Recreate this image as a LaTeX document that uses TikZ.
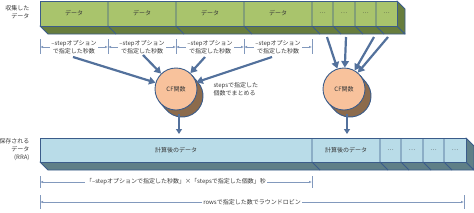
\documentclass[tikz,border=0pt]{standalone}
\usepackage{fontspec}
\setmainfont{Noto Sans CJK JP}
\usetikzlibrary{arrows.meta,positioning,calc}
\definecolor{gface}{HTML}{A9C46C}
\definecolor{gdark}{HTML}{677D3D}
\definecolor{bface}{HTML}{B9DCE8}
\definecolor{bdark}{HTML}{5F7F87}
\definecolor{edgeblue}{HTML}{3B5C8A}
\definecolor{arrowblue}{HTML}{53719C}
\definecolor{dimblue}{HTML}{8299BD}
\definecolor{cfface}{HTML}{F8C29C}
\definecolor{cfside}{HTML}{8C6B4C}
\definecolor{txt}{HTML}{3A3A3A}
\tikzset{
  edge/.style={draw=edgeblue,line width=0.9pt,line join=round},
  celltext/.style={text=txt},
  sidetext/.style={text=txt,anchor=east,align=right},
  dimlabel/.style={text=txt,fill=white,inner sep=1.5pt,align=center},
  dim/.style={draw=dimblue,line width=0.6pt},
  dimarrow/.style={dim,{Latex[length=3pt,width=2.4pt]}-{Latex[length=3pt,width=2.4pt]}},
  bigarrow/.style={draw=arrowblue,line width=2.2pt,-{Triangle[length=6.5pt,width=7.5pt]}},
  downarrow/.style={draw=arrowblue,line width=1.6pt,-{Triangle[length=5pt,width=6pt]}},
  cfdisk/.style={circle,edge,fill=cfface,minimum size=42pt,inner sep=0pt,text=txt}
}
\begin{document}
\begin{tikzpicture}[x=1pt,y=-1pt,font=\fontsize{6}{8}\selectfont]
\useasboundingbox (0,0) rectangle (474,212);
\clip (0,0) rectangle (474,212);

% collected data
\filldraw[edge,fill=gdark] (40,26) -- (397,26) -- (405,34) -- (48,34) -- cycle;
\filldraw[edge,fill=gdark] (397,1) -- (405,9) -- (405,34) -- (397,26) -- cycle;
\filldraw[edge,fill=gface] (40,1) rectangle (397,26);
\foreach \x in {108,176,244,312,333,355,376}
  \draw[edge] (\x,1) -- (\x,26) -- ++(8,8);
\foreach \x/\n in {74/d1,142/d2,210/d3,278/d4}
  \node[celltext] (\n) at (\x,13) {データ};
\foreach \x/\n in {322.5/e1,344/e2,365.5/e3,386.5/e4}
  \node[celltext] (\n) at (\x,13) {…};
\node[sidetext] (collected) at (33,12.5) {収集した\\データ};

% step widths
\foreach \x in {40,108,176,244,312}
  \draw[dim] (\x,39) -- (\x,54);
\foreach \a/\b/\n in {40/108/w1,108/176/w2,176/244/w3,244/312/w4}
  \draw[dimarrow] (\a,47) -- (\b,47) node[midway,dimlabel] (\n) {--stepオプション\\で指定した秒数};

% CF functions
\foreach \c/\n in {176/cf1,344/cf2} {
  \filldraw[edge,fill=cfside] (\c,89) ++(139.4:21) -- ++(6,7)
    arc[start angle=139.4,end angle=-40.6,radius=21] -- ++(-6,-7) -- cycle;
  \node[cfdisk] (\n) at (\c,89) {CF関数};
}
\node[text=txt,anchor=west,align=left] (steps) at (210,89) {stepsで指定した\\個数でまとめる};

\coordinate (s1) at (73,57);
\coordinate (s2) at (143,55);
\coordinate (s3) at (205,57);
\coordinate (s4) at (272,57);
\foreach \s in {s1,s2,s3,s4}
  \draw[bigarrow] (\s) -- (cf1);
\coordinate (u1) at (327,37);
\coordinate (u2) at (346,37);
\coordinate (u3) at (374,37);
\coordinate (u4) at (388,37);
\foreach \s in {u1,u2,u3,u4}
  \draw[bigarrow] (\s) -- (cf2);

% stored data
\filldraw[edge,fill=bdark] (40,162) -- (466,162) -- (474,170) -- (48,170) -- cycle;
\filldraw[edge,fill=bdark] (466,138) -- (474,146) -- (474,170) -- (466,162) -- cycle;
\filldraw[edge,fill=bface] (40,138) rectangle (466,162);
\foreach \x in {312,380,401,423,444}
  \draw[edge] (\x,138) -- (\x,162) -- ++(8,8);
\node[celltext] (c1) at (176,150) {計算後のデータ};
\node[celltext] (c2) at (346,150) {計算後のデータ};
\foreach \x/\n in {390.5/f1,412/f2,433.5/f3,455/f4}
  \node[celltext] (\n) at (\x,150) {…};
\node[sidetext] (stored) at (33,150) {保存される\\データ\\(RRA)};

\coordinate (o1) at (179,114);
\coordinate (i1) at (179,134);
\coordinate (o2) at (347,114);
\coordinate (i2) at (347,134);
\draw[downarrow] (o1) -- (i1);
\draw[downarrow] (o2) -- (i2);

% spans
\draw[dim] (40,176) -- (40,188);
\draw[dim] (312,176) -- (312,188);
\draw[dimarrow] (40,182) -- (312,182) node[midway,dimlabel] (span1) {「--stepオプションで指定した秒数」×「stepsで指定した個数」秒};
\draw[dim] (40,195) -- (40,209);
\draw[dim] (464,195) -- (464,209);
\draw[dimarrow] (40,202) -- (464,202) node[midway,dimlabel] (span2) {rowsで指定した数でラウンドロビン};
\end{tikzpicture}
\end{document}
